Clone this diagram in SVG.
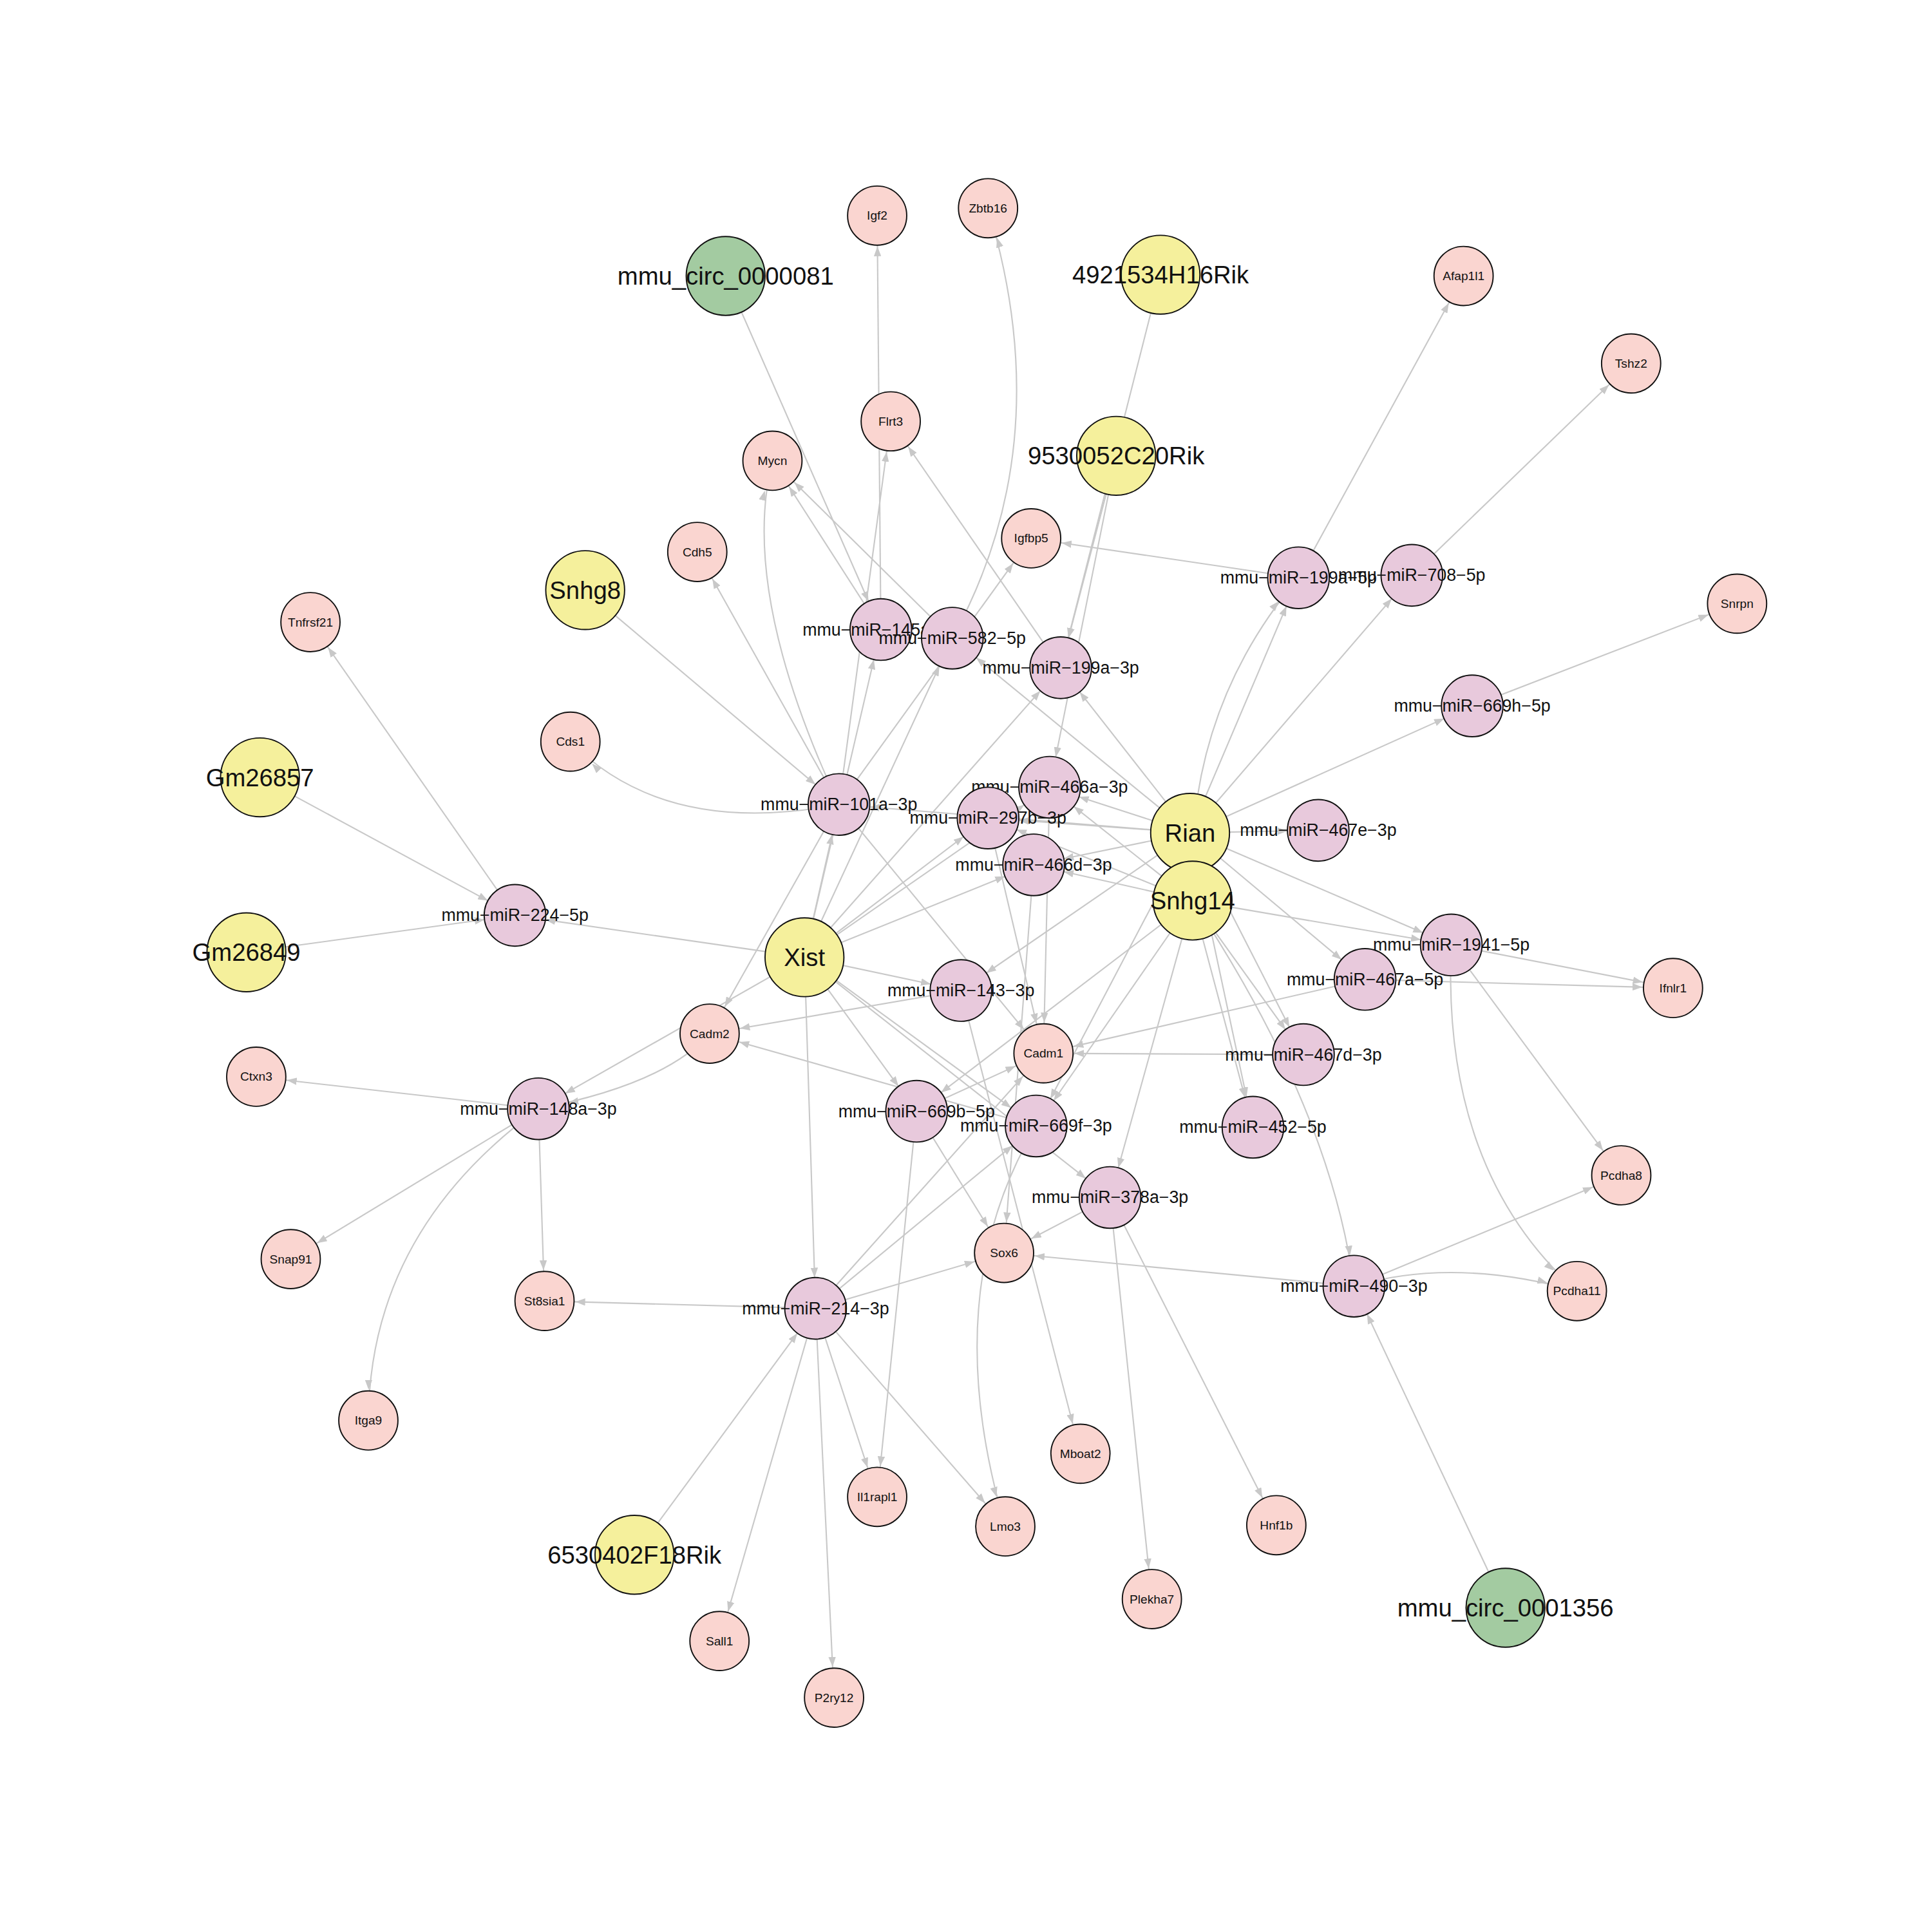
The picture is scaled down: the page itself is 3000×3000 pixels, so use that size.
<svg xmlns="http://www.w3.org/2000/svg" width="3000" height="3000" viewBox="0 0 3000 3000">
<style>
.e{stroke:#c8c8c8;stroke-width:1.1;fill:none;marker-end:url(#a)}
.l circle{fill:#f5f09c;stroke:#111;stroke-width:1}
.c circle{fill:#a3cba1;stroke:#111;stroke-width:1}
.m circle{fill:#e8c9dc;stroke:#111;stroke-width:1}
.t circle{fill:#fad5d0;stroke:#111;stroke-width:1}
text{font-family:"Liberation Sans",Arial,sans-serif;text-anchor:middle;dominant-baseline:central;fill:#111}
.l text,.c text{font-size:20px}
.m text{font-size:14px}
.t text{font-size:10px}
</style>
<defs><marker id="a" viewBox="0 0 8 6" refX="33" refY="3" markerWidth="8" markerHeight="6" markerUnits="userSpaceOnUse" orient="auto"><path d="M0,0L8,3L0,6z" fill="#c8c8c8"/></marker></defs>
<rect width="3000" height="3000" fill="#fff"/>
<g transform="scale(1.913)">
<g id="edges">
<path class="e" d="M589,224L715,511"/><path class="e" d="M942,223L861,542"/><path class="e" d="M906,370L861,542"/><path class="e" d="M906,370L852,639"/>
<path class="e" d="M475,479L681,653"/><path class="e" d="M211,631L418,743"/><path class="e" d="M200,773L418,743"/><path class="e" d="M515,1262L662,1062"/><path class="e" d="M1222,1305L1099,1044"/>
<path class="e" d="M653,777L418,743"/><path class="e" d="M653,777L437,900"/><path class="e" d="M653,777L681,653"/><path class="e" d="M653,777L715,511"/><path class="e" d="M653,777L773,518"/><path class="e" d="M653,777L802,664"/><path class="e" d="M653,777L852,639"/><path class="e" d="M653,777L839,702"/><path class="e" d="M653,777L780,804"/><path class="e" d="M653,777L744,902"/><path class="e" d="M653,777L662,1062"/><path class="e" d="M653,777L901,972"/><path class="e" d="M653,777L841,914"/><path class="e" d="M653,777L861,542"/>
<path class="e" d="M966,676L1054,469"/><path class="e" d="M966,676L1146,467"/><path class="e" d="M966,676L1195,573"/><path class="e" d="M966,676L1070,674"/><path class="e" d="M966,676L852,639"/><path class="e" d="M966,676L802,664"/><path class="e" d="M966,676L839,702"/><path class="e" d="M966,676L681,653"/><path class="e" d="M966,676L861,542"/><path class="e" d="M966,676L1178,767"/><path class="e" d="M966,676L1108,795"/><path class="e" d="M966,676L1058,856"/><path class="e" d="M966,676L1017,915"/><path class="e" d="M966,676L780,804"/><path class="e" d="M966,676L841,914"/><path class="e" d="M966,676L773,518"/>
<path class="e" d="M968,731Q960,580 1054,469"/><path class="e" d="M968,731L839,702"/><path class="e" d="M968,731L802,664"/><path class="e" d="M968,731L1058,856"/><path class="e" d="M968,731L1017,915"/><path class="e" d="M968,731Q1080,900 1099,1044"/><path class="e" d="M968,731L841,914"/><path class="e" d="M968,731L901,972"/><path class="e" d="M968,731L744,902"/><path class="e" d="M968,731L1178,767"/><path class="e" d="M968,731L852,639"/>
<path class="e" d="M681,653Q540,680 463,602"/><path class="e" d="M681,653L566,448"/><path class="e" d="M681,653Q600,480 627,374"/><path class="e" d="M681,653L723,342"/><path class="e" d="M681,653L576,839"/><path class="e" d="M681,653L847,855"/><path class="e" d="M681,653L837,437"/>
<path class="e" d="M715,511L627,374"/><path class="e" d="M715,511L712,175"/><path class="e" d="M773,518Q860,360 802,169"/><path class="e" d="M773,518L627,374"/><path class="e" d="M861,542L723,342"/>
<path class="e" d="M1054,469L1188,224"/><path class="e" d="M1054,469L837,437"/><path class="e" d="M1146,467L1324,295"/><path class="e" d="M1195,573L1410,490"/><path class="e" d="M418,743L252,505"/>
<path class="e" d="M437,900L208,874"/><path class="e" d="M437,900L236,1022"/><path class="e" d="M437,900Q300,1000 299,1153"/><path class="e" d="M437,900L442,1056"/>
<path class="e" d="M662,1062L442,1056"/><path class="e" d="M662,1062L584,1332"/><path class="e" d="M662,1062L677,1378"/><path class="e" d="M662,1062L712,1215"/><path class="e" d="M662,1062L816,1239"/><path class="e" d="M662,1062L815,1017"/>
<path class="e" d="M1178,767L1358,802"/><path class="e" d="M1178,767L1316,954"/><path class="e" d="M1178,767Q1170,950 1280,1048"/><path class="e" d="M1108,795L1358,802"/><path class="e" d="M1108,795L847,855"/>
<path class="e" d="M1099,1044Q1180,1020 1280,1048"/><path class="e" d="M1099,1044L815,1017"/><path class="e" d="M1099,1044L1316,954"/>
<path class="e" d="M901,972L1036,1238"/><path class="e" d="M901,972L935,1298"/><path class="e" d="M901,972L815,1017"/>
<path class="e" d="M744,902L712,1215"/><path class="e" d="M744,902L815,1017"/><path class="e" d="M744,902L847,855"/>
<path class="e" d="M841,914L576,839"/><path class="e" d="M841,914Q760,1050 816,1239"/><path class="e" d="M780,804L877,1180"/><path class="e" d="M780,804L576,839"/>
<path class="e" d="M1058,856L847,855"/><path class="e" d="M852,639L847,855"/><path class="e" d="M802,664L847,855"/><path class="e" d="M839,702L815,1017"/><path class="e" d="M662,1062L847,855"/><path class="e" d="M662,1062L841,914"/><path class="e" d="M576,839Q540,880 437,900"/>
</g>
<g id="n_4921534H16Rik" class="l"><circle cx="942" cy="223" r="32"/><text x="942" y="223">4921534H16Rik</text></g>
<g id="n_9530052C20Rik" class="l"><circle cx="906" cy="370" r="32"/><text x="906" y="370">9530052C20Rik</text></g>
<g id="n_Snhg8" class="l"><circle cx="475" cy="479" r="32"/><text x="475" y="479">Snhg8</text></g>
<g id="n_Gm26857" class="l"><circle cx="211" cy="631" r="32"/><text x="211" y="631">Gm26857</text></g>
<g id="n_Gm26849" class="l"><circle cx="200" cy="773" r="32"/><text x="200" y="773">Gm26849</text></g>
<g id="n_Xist" class="l"><circle cx="653" cy="777" r="32"/><text x="653" y="777">Xist</text></g>
<g id="n_Rian" class="l"><circle cx="966" cy="676" r="32"/><text x="966" y="676">Rian</text></g>
<g id="n_Snhg14" class="l"><circle cx="968" cy="731" r="32"/><text x="968" y="731">Snhg14</text></g>
<g id="n_6530402F18Rik" class="l"><circle cx="515" cy="1262" r="32"/><text x="515" y="1262">6530402F18Rik</text></g>
<g id="n_circ81" class="c"><circle cx="589" cy="224" r="32"/><text x="589" y="224">mmu_circ_0000081</text></g>
<g id="n_circ1356" class="c"><circle cx="1222" cy="1305" r="32"/><text x="1222" y="1305">mmu_circ_0001356</text></g>
<g id="m145a" class="m"><circle cx="715" cy="511" r="25"/><text x="715" y="511">mmu−miR−145a−5p</text></g>
<g id="m582" class="m"><circle cx="773" cy="518" r="25"/><text x="773" y="518">mmu−miR−582−5p</text></g>
<g id="m199a3" class="m"><circle cx="861" cy="542" r="25"/><text x="861" y="542">mmu−miR−199a−3p</text></g>
<g id="m199a5" class="m"><circle cx="1054" cy="469" r="25"/><text x="1054" y="469">mmu−miR−199a−5p</text></g>
<g id="m708" class="m"><circle cx="1146" cy="467" r="25"/><text x="1146" y="467">mmu−miR−708−5p</text></g>
<g id="m669h" class="m"><circle cx="1195" cy="573" r="25"/><text x="1195" y="573">mmu−miR−669h−5p</text></g>
<g id="m101a" class="m"><circle cx="681" cy="653" r="25"/><text x="681" y="653">mmu−miR−101a−3p</text></g>
<g id="m466a" class="m"><circle cx="852" cy="639" r="25"/><text x="852" y="639">mmu−miR−466a−3p</text></g>
<g id="m297b" class="m"><circle cx="802" cy="664" r="25"/><text x="802" y="664">mmu−miR−297b−3p</text></g>
<g id="m466d" class="m"><circle cx="839" cy="702" r="25"/><text x="839" y="702">mmu−miR−466d−3p</text></g>
<g id="m467e" class="m"><circle cx="1070" cy="674" r="25"/><text x="1070" y="674">mmu−miR−467e−3p</text></g>
<g id="m224" class="m"><circle cx="418" cy="743" r="25"/><text x="418" y="743">mmu−miR−224−5p</text></g>
<g id="m1941" class="m"><circle cx="1178" cy="767" r="25"/><text x="1178" y="767">mmu−miR−1941−5p</text></g>
<g id="m467a" class="m"><circle cx="1108" cy="795" r="25"/><text x="1108" y="795">mmu−miR−467a−5p</text></g>
<g id="m143" class="m"><circle cx="780" cy="804" r="25"/><text x="780" y="804">mmu−miR−143−3p</text></g>
<g id="m148a" class="m"><circle cx="437" cy="900" r="25"/><text x="437" y="900">mmu−miR−148a−3p</text></g>
<g id="m467d" class="m"><circle cx="1058" cy="856" r="25"/><text x="1058" y="856">mmu−miR−467d−3p</text></g>
<g id="m669b" class="m"><circle cx="744" cy="902" r="25"/><text x="744" y="902">mmu−miR−669b−5p</text></g>
<g id="m669f" class="m"><circle cx="841" cy="914" r="25"/><text x="841" y="914">mmu−miR−669f−3p</text></g>
<g id="m452" class="m"><circle cx="1017" cy="915" r="25"/><text x="1017" y="915">mmu−miR−452−5p</text></g>
<g id="m378a" class="m"><circle cx="901" cy="972" r="25"/><text x="901" y="972">mmu−miR−378a−3p</text></g>
<g id="m490" class="m"><circle cx="1099" cy="1044" r="25"/><text x="1099" y="1044">mmu−miR−490−3p</text></g>
<g id="m214" class="m"><circle cx="662" cy="1062" r="25"/><text x="662" y="1062">mmu−miR−214−3p</text></g>
<g id="t_Igf2" class="t"><circle cx="712" cy="175" r="24"/><text x="712" y="175">Igf2</text></g>
<g id="t_Zbtb16" class="t"><circle cx="802" cy="169" r="24"/><text x="802" y="169">Zbtb16</text></g>
<g id="t_Afap1l1" class="t"><circle cx="1188" cy="224" r="24"/><text x="1188" y="224">Afap1l1</text></g>
<g id="t_Tshz2" class="t"><circle cx="1324" cy="295" r="24"/><text x="1324" y="295">Tshz2</text></g>
<g id="t_Flrt3" class="t"><circle cx="723" cy="342" r="24"/><text x="723" y="342">Flrt3</text></g>
<g id="t_Mycn" class="t"><circle cx="627" cy="374" r="24"/><text x="627" y="374">Mycn</text></g>
<g id="t_Igfbp5" class="t"><circle cx="837" cy="437" r="24"/><text x="837" y="437">Igfbp5</text></g>
<g id="t_Cdh5" class="t"><circle cx="566" cy="448" r="24"/><text x="566" y="448">Cdh5</text></g>
<g id="t_Snrpn" class="t"><circle cx="1410" cy="490" r="24"/><text x="1410" y="490">Snrpn</text></g>
<g id="t_Tnfrsf21" class="t"><circle cx="252" cy="505" r="24"/><text x="252" y="505">Tnfrsf21</text></g>
<g id="t_Cds1" class="t"><circle cx="463" cy="602" r="24"/><text x="463" y="602">Cds1</text></g>
<g id="t_Ifnlr1" class="t"><circle cx="1358" cy="802" r="24"/><text x="1358" y="802">Ifnlr1</text></g>
<g id="t_Cadm2" class="t"><circle cx="576" cy="839" r="24"/><text x="576" y="839">Cadm2</text></g>
<g id="t_Cadm1" class="t"><circle cx="847" cy="855" r="24"/><text x="847" y="855">Cadm1</text></g>
<g id="t_Ctxn3" class="t"><circle cx="208" cy="874" r="24"/><text x="208" y="874">Ctxn3</text></g>
<g id="t_Pcdha8" class="t"><circle cx="1316" cy="954" r="24"/><text x="1316" y="954">Pcdha8</text></g>
<g id="t_Sox6" class="t"><circle cx="815" cy="1017" r="24"/><text x="815" y="1017">Sox6</text></g>
<g id="t_Snap91" class="t"><circle cx="236" cy="1022" r="24"/><text x="236" y="1022">Snap91</text></g>
<g id="t_St8sia1" class="t"><circle cx="442" cy="1056" r="24"/><text x="442" y="1056">St8sia1</text></g>
<g id="t_Pcdha11" class="t"><circle cx="1280" cy="1048" r="24"/><text x="1280" y="1048">Pcdha11</text></g>
<g id="t_Itga9" class="t"><circle cx="299" cy="1153" r="24"/><text x="299" y="1153">Itga9</text></g>
<g id="t_Mboat2" class="t"><circle cx="877" cy="1180" r="24"/><text x="877" y="1180">Mboat2</text></g>
<g id="t_Il1rapl1" class="t"><circle cx="712" cy="1215" r="24"/><text x="712" y="1215">Il1rapl1</text></g>
<g id="t_Lmo3" class="t"><circle cx="816" cy="1239" r="24"/><text x="816" y="1239">Lmo3</text></g>
<g id="t_Hnf1b" class="t"><circle cx="1036" cy="1238" r="24"/><text x="1036" y="1238">Hnf1b</text></g>
<g id="t_Plekha7" class="t"><circle cx="935" cy="1298" r="24"/><text x="935" y="1298">Plekha7</text></g>
<g id="t_Sall1" class="t"><circle cx="584" cy="1332" r="24"/><text x="584" y="1332">Sall1</text></g>
<g id="t_P2ry12" class="t"><circle cx="677" cy="1378" r="24"/><text x="677" y="1378">P2ry12</text></g>
</g>
</svg>
